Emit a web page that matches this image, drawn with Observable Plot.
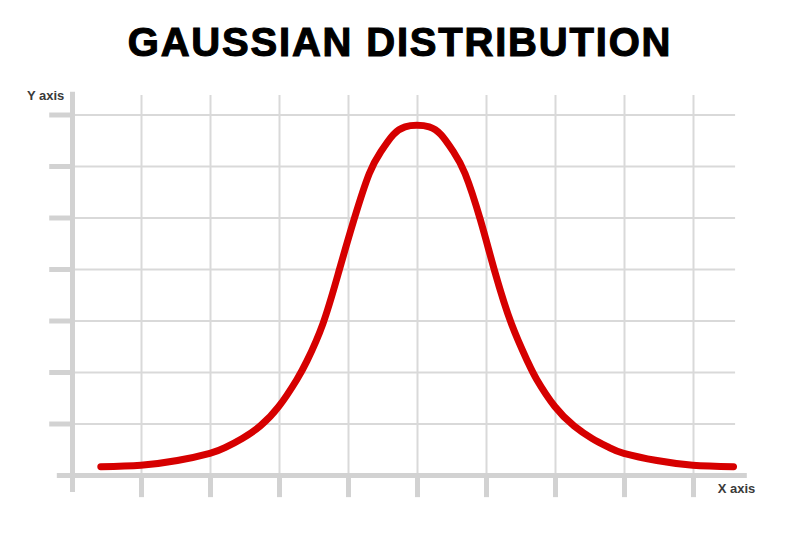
<!DOCTYPE html>
<html>
<head>
<meta charset="utf-8">
<script src="https://cdn.jsdelivr.net/npm/d3@7"></script>
<script src="https://cdn.jsdelivr.net/npm/@observablehq/plot@0.6"></script>
<style>
  html, body { margin: 0; padding: 0; background: #fff; }
  #title {
    height: 75px; box-sizing: border-box; padding-top: 22px;
    text-align: center; font-family: "Liberation Sans", Arial, sans-serif;
    font-weight: bold; font-size: 40px; line-height: 40px; letter-spacing: 1.8px;
    color: #000; -webkit-text-stroke: 1.1px #000; width: 800px;
  }
  #chart svg { display: block; }
</style>
</head>
<body>
<div id="title">GAUSSIAN DISTRIBUTION</div>
<div id="chart"></div>
<script>
// Curve points (x and y in grid units)
const curveX = [0.41, 0.99, 1.52, 1.99, 2.21, 2.46, 2.72, 2.99, 3.25, 3.40, 3.63, 3.86, 4.08, 4.30, 4.47, 4.65, 4.82, 4.99,
                5.17, 5.34, 5.52, 5.69, 5.91, 6.12, 6.36, 6.59, 6.73, 6.99, 7.27, 7.53, 7.78, 7.99, 8.47, 8.99, 9.58];
const curveY = [0.17, 0.20, 0.29, 0.43, 0.54, 0.72, 0.96, 1.34, 1.86, 2.23, 2.95, 3.96, 4.97, 5.86, 6.29, 6.62, 6.77, 6.80,
                6.77, 6.62, 6.29, 5.86, 4.97, 3.96, 2.95, 2.23, 1.86, 1.34, 0.96, 0.72, 0.54, 0.43, 0.29, 0.20, 0.17];
const xTicks = [1, 2, 3, 4, 5, 6, 7, 8, 9];
const yTicks = [1, 2, 3, 4, 5, 6, 7];
const xLabel = "X axis";
const yLabel = "Y axis";

const points = curveX.map((x, i) => ({x, y: curveY[i]}));
const gridColor = "#d9d9d9";
const axisColor = "#d2d2d2";

const chart = Plot.plot({
  width: 800,
  height: 458,
  marginLeft: 72,
  marginRight: 800 - 72 - 9.6 * 69,
  marginTop: 458 - 58 - 7.4 * 51.5,
  marginBottom: 58,
  x: {domain: [0, 9.6], axis: null},
  y: {domain: [0, 7.4], axis: null},
  style: {fontFamily: "Liberation Sans, Arial, sans-serif", background: "#fff"},
  marks: [
    Plot.ruleX(xTicks, {x: d => d, y1: 0, y2: 7.38, stroke: gridColor, strokeWidth: 2}),
    Plot.ruleY(yTicks, {y: d => d, x1: 0, x2: 9.61, stroke: gridColor, strokeWidth: 2}),
    Plot.ruleY(yTicks, {y: d => d, x1: -0.33, x2: 0, stroke: axisColor, strokeWidth: 5}),
    Plot.ruleX(xTicks, {x: d => d, y1: -0.43, y2: 0, stroke: axisColor, strokeWidth: 5}),
    Plot.ruleX([0], {y1: -0.33, y2: 7.44, stroke: axisColor, strokeWidth: 5}),
    Plot.ruleY([0], {x1: -0.22, x2: 9.78, stroke: axisColor, strokeWidth: 5}),
    Plot.line(points, {x: "x", y: "y", stroke: "#d60000", strokeWidth: 7,
      strokeLinecap: "round", strokeLinejoin: "round", curve: "natural"}),
    Plot.text([yLabel], {x: -0.39, y: 7.363, text: d => d, fontSize: 13, fontWeight: "bold", fill: "#3a3a3a"}),
    Plot.text([xLabel], {x: 9.623, y: -0.268, text: d => d, fontSize: 13, fontWeight: "bold", fill: "#3a3a3a"})
  ]
});
document.getElementById("chart").appendChild(chart);
</script>
</body>
</html>
